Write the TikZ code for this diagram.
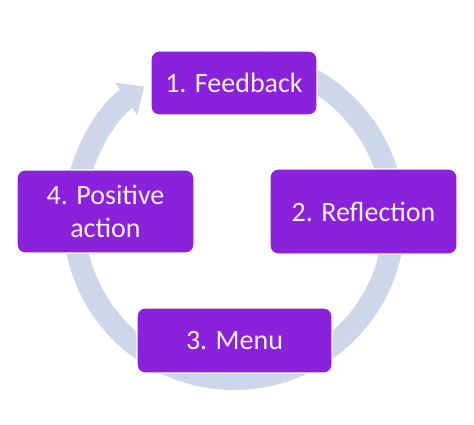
\documentclass[tikz,border=0pt]{standalone}
\usepackage{fontspec}
\setmainfont{Carlito}
\usetikzlibrary{arrows.meta}
\definecolor{boxfill}{HTML}{8A22DC}
\definecolor{ringcol}{HTML}{CED6EA}
\definecolor{txtcol}{HTML}{F6EEFC}
\begin{document}
\begin{tikzpicture}[x=1pt,y=1pt,
  stage/.style={draw=white, line width=1.2pt, fill=boxfill, rounded corners=8pt,
    text=txtcol, font=\fontsize{28}{33}\selectfont, align=center, inner sep=0pt},
  ring/.style={draw=ringcol, line width=22pt, -{Triangle[width=38pt,length=22pt]}}]
\useasboundingbox (0,0) rectangle (474,424);
\coordinate (c) at (234,205);
\draw[ring] (c) ++(80:160) arc[start angle=80, end angle=-235.9, radius=160];
\node[stage, minimum width=166pt, minimum height=64pt] (s1) at (234,341) {1. Feedback};
\node[stage, minimum width=187pt, minimum height=85pt] (s2) at (363.5,212.5) {2. Reflection};
\node[stage, minimum width=195pt, minimum height=65pt] (s3) at (234.5,83.5) {3. Menu};
\node[stage, minimum width=177pt, minimum height=83pt] (s4) at (105.5,212.5) {4. Positive\\action};
\end{tikzpicture}
\end{document}
